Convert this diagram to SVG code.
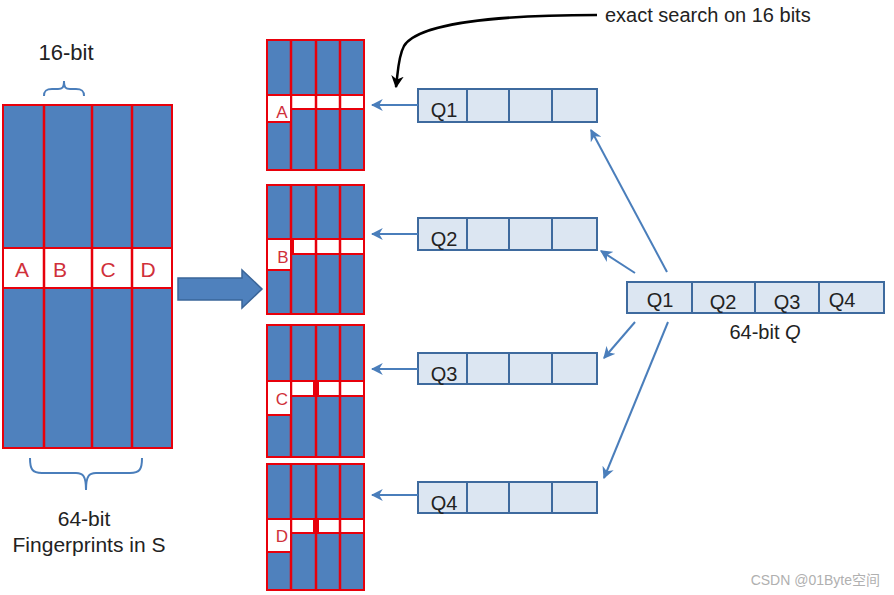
<svg xmlns="http://www.w3.org/2000/svg" width="894" height="595" viewBox="0 0 894 595">
<defs>
<style>
.blk{fill:#4F81BD;stroke:#E8000B;stroke-width:2}
.wht{fill:#FFFFFF;stroke:#E8000B;stroke-width:2}
.rl{stroke:#E8000B;stroke-width:2.5}
.lt{font-family:"Liberation Sans",Arial,sans-serif;fill:#D0303A;text-anchor:middle}
.t{font-family:"Liberation Sans",Arial,sans-serif;fill:#222222}
.qb{fill:#DCE6F2;stroke:#3E6A9E;stroke-width:2}
.ql{stroke:#3E6A9E;stroke-width:2}
.ba{stroke:#4A7EBB;stroke-width:2;fill:none;marker-end:url(#ah)}
.br{stroke:#4A7EBB;stroke-width:2;fill:none}
</style>
<marker id="ah" viewBox="0 0 10 10" refX="9" refY="5" markerWidth="6" markerHeight="6" orient="auto" markerUnits="strokeWidth">
<path d="M0,0 L10,5 L0,10 L3,5 z" fill="#4A7EBB"/>
</marker>
<marker id="ahk" viewBox="0 0 10 10" refX="9" refY="5" markerWidth="5" markerHeight="5" orient="auto" markerUnits="strokeWidth">
<path d="M0,0 L10,5 L0,10 L3,5 z" fill="#000000"/>
</marker>
</defs>
<rect width="894" height="595" fill="#FFFFFF"/>

<g id="fingerprints">
<rect class="blk" x="3" y="105" width="169" height="343"/>
<rect class="wht" x="3" y="248" width="169" height="40"/>
<line class="rl" x1="44" y1="105" x2="44" y2="448"/>
<line class="rl" x1="92" y1="105" x2="92" y2="448"/>
<line class="rl" x1="132" y1="105" x2="132" y2="448"/>
<text class="lt" x="22" y="277" font-size="21">A</text>
<text class="lt" x="60" y="277" font-size="21">B</text>
<text class="lt" x="108" y="277" font-size="21">C</text>
<text class="lt" x="148" y="277" font-size="21">D</text>
</g>

<g id="label-16bit">
<text class="t" x="66" y="60" font-size="22" text-anchor="middle">16-bit</text>
<path class="br" d="M44,96 C44,91 46,89 52,89 L58,89 C62,89 64,88 64,81 C64,88 66,89 70,89 L76,89 C82,89 84,91 84,96"/>
</g>

<g id="label-64bit">
<path class="br" d="M30,458 C30,469 32,473 42,473 L76,473 C83,473 86,476 86,490 C86,476 89,473 96,473 L130,473 C140,473 142,469 142,458"/>
<text class="t" x="84" y="526" font-size="21" text-anchor="middle">64-bit</text>
<text class="t" x="89" y="552" font-size="21" text-anchor="middle">Fingerprints in S</text>
</g>

<g id="big-arrow">
<polygon points="178,278 242,278 242,270 262,289 242,308 242,300 178,300" fill="#4F81BD" stroke="#3A6599" stroke-width="1.5"/>
</g>

<g id="table-A">
<rect class="blk" x="267" y="40" width="97" height="130"/>
<rect class="wht" x="291" y="95" width="73" height="14"/>
<line class="rl" x1="291" y1="40" x2="291" y2="170"/>
<line class="rl" x1="316" y1="40" x2="316" y2="170"/>
<line class="rl" x1="340" y1="40" x2="340" y2="170"/>
<rect class="wht" x="267" y="95" width="24" height="27"/>
<text class="lt" x="282" y="118" font-size="17">A</text>
</g>

<g id="table-B">
<rect class="blk" x="267" y="185" width="97" height="129"/>
<rect class="wht" x="291" y="239" width="73" height="15"/>
<line class="rl" x1="291" y1="185" x2="291" y2="314"/>
<line class="rl" x1="316" y1="185" x2="316" y2="314"/>
<line class="rl" x1="340" y1="185" x2="340" y2="314"/>
<rect x="289" y="239" width="5" height="15" fill="#E8000B"/>
<rect class="wht" x="267" y="239" width="24" height="31"/>
<text class="lt" x="283" y="263" font-size="17">B</text>
</g>

<g id="table-C">
<rect class="blk" x="267" y="325" width="97" height="132"/>
<rect class="wht" x="291" y="381" width="73" height="15"/>
<line class="rl" x1="291" y1="325" x2="291" y2="457"/>
<line class="rl" x1="316" y1="325" x2="316" y2="457"/>
<line class="rl" x1="340" y1="325" x2="340" y2="457"/>
<rect x="313" y="381" width="6" height="15" fill="#E8000B"/>
<rect class="wht" x="267" y="381" width="24" height="34"/>
<text class="lt" x="282" y="405" font-size="17">C</text>
</g>

<g id="table-D">
<rect class="blk" x="267" y="464" width="97" height="126"/>
<rect class="wht" x="291" y="519" width="73" height="14"/>
<line class="rl" x1="291" y1="464" x2="291" y2="590"/>
<line class="rl" x1="316" y1="464" x2="316" y2="590"/>
<line class="rl" x1="340" y1="464" x2="340" y2="590"/>
<rect x="313" y="519" width="6" height="14" fill="#E8000B"/>
<rect class="wht" x="267" y="519" width="24" height="33"/>
<text class="lt" x="282" y="542" font-size="17">D</text>
</g>

<g id="row-Q1">
<rect class="qb" x="418" y="89" width="179" height="33"/>
<line class="ql" x1="467" y1="89" x2="467" y2="122"/>
<line class="ql" x1="509" y1="89" x2="509" y2="122"/>
<line class="ql" x1="552" y1="89" x2="552" y2="122"/>
<text class="t" x="444" y="117" font-size="20" text-anchor="middle">Q1</text>
</g>
<g id="row-Q2">
<rect class="qb" x="418" y="218" width="179" height="32"/>
<line class="ql" x1="467" y1="218" x2="467" y2="250"/>
<line class="ql" x1="509" y1="218" x2="509" y2="250"/>
<line class="ql" x1="552" y1="218" x2="552" y2="250"/>
<text class="t" x="444" y="246" font-size="20" text-anchor="middle">Q2</text>
</g>
<g id="row-Q3">
<rect class="qb" x="418" y="353" width="179" height="31"/>
<line class="ql" x1="467" y1="353" x2="467" y2="384"/>
<line class="ql" x1="509" y1="353" x2="509" y2="384"/>
<line class="ql" x1="552" y1="353" x2="552" y2="384"/>
<text class="t" x="444" y="381" font-size="20" text-anchor="middle">Q3</text>
</g>
<g id="row-Q4">
<rect class="qb" x="418" y="482" width="179" height="31"/>
<line class="ql" x1="467" y1="482" x2="467" y2="513"/>
<line class="ql" x1="509" y1="482" x2="509" y2="513"/>
<line class="ql" x1="552" y1="482" x2="552" y2="513"/>
<text class="t" x="444" y="510" font-size="20" text-anchor="middle">Q4</text>
</g>

<g id="query-Q">
<rect class="qb" x="627" y="282" width="257" height="31"/>
<line class="ql" x1="692" y1="282" x2="692" y2="313"/>
<line class="ql" x1="755" y1="282" x2="755" y2="313"/>
<line class="ql" x1="819" y1="282" x2="819" y2="313"/>
<text class="t" x="660" y="307" font-size="20" text-anchor="middle">Q1</text>
<text class="t" x="723" y="309" font-size="20" text-anchor="middle">Q2</text>
<text class="t" x="787" y="309" font-size="20" text-anchor="middle">Q3</text>
<text class="t" x="842" y="307" font-size="20" text-anchor="middle">Q4</text>
<text class="t" x="765" y="339" font-size="20" text-anchor="middle">64-bit <tspan font-style="italic">Q</tspan></text>
</g>

<g id="annotation">
<text class="t" x="605" y="22" font-size="20">exact search on 16 bits</text>
</g>

<g id="connectors">
<line class="ba" x1="418" y1="105" x2="372" y2="105"/>
<line class="ba" x1="418" y1="234" x2="372" y2="234"/>
<line class="ba" x1="418" y1="369" x2="372" y2="369"/>
<line class="ba" x1="418" y1="495" x2="372" y2="495"/>
<line class="ba" x1="667" y1="272" x2="591" y2="130"/>
<line class="ba" x1="635" y1="273" x2="601" y2="251"/>
<line class="ba" x1="635" y1="322" x2="604" y2="358"/>
<line class="ba" x1="668" y1="322" x2="604" y2="478"/>
<path d="M597,15 C520,15 420,20 404,46 C398,57 398,72 396,87" fill="none" stroke="#000000" stroke-width="2.5" marker-end="url(#ahk)"/>
</g>

<text x="880" y="585" font-family="'Liberation Sans',Arial,'Noto Sans CJK SC',sans-serif" font-size="14" fill="#B0B0B0" text-anchor="end">CSDN @01Byte空间</text>
</svg>
